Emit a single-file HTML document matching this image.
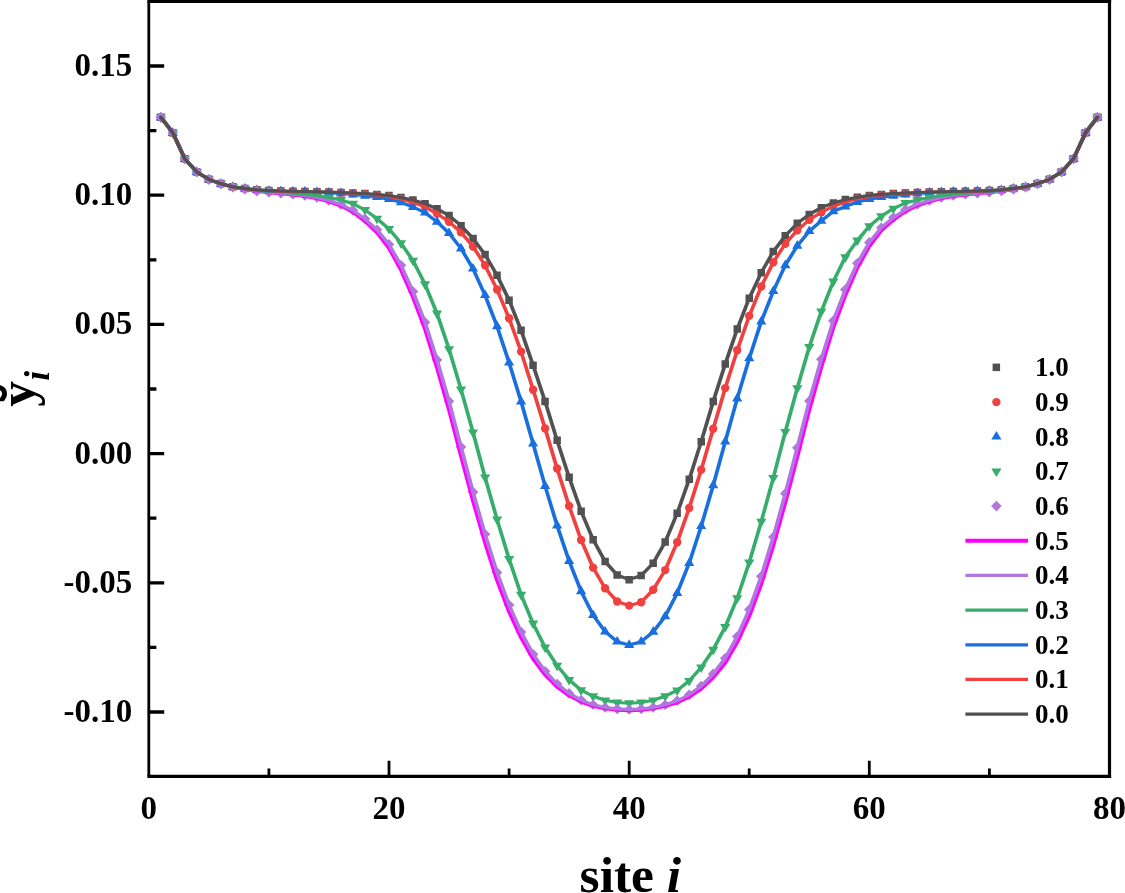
<!DOCTYPE html>
<html lang="en"><head><meta charset="utf-8"><title>site i plot</title>
<style>
html,body{margin:0;padding:0;background:#fff;}
body{width:1125px;height:893px;overflow:hidden;}
svg{display:block;}
text{font-family:"Liberation Serif","Times New Roman",serif;font-weight:bold;fill:#000;}
.tk{font-size:33px;}
.lg{font-size:27px;}
.ti{font-size:51.5px;}
</style></head><body>
<svg width="1125" height="893" viewBox="0 0 1125 893">
<rect width="1125" height="893" fill="#fff"/>
<g id="scatter">
<path fill="#515151" d="M157.1 113.5h7.5v7.5h-7.5zM169.1 128.9h7.5v7.5h-7.5zM181.1 154.9h7.5v7.5h-7.5zM193.1 168.2h7.5v7.5h-7.5zM205.1 175.6h7.5v7.5h-7.5zM217.1 179.8h7.5v7.5h-7.5zM229.1 182.9h7.5v7.5h-7.5zM241.1 184.7h7.5v7.5h-7.5zM253.1 186.1h7.5v7.5h-7.5zM265.1 186.8h7.5v7.5h-7.5zM277.1 187.2h7.5v7.5h-7.5zM289.2 187.6h7.5v7.5h-7.5zM301.2 187.8h7.5v7.5h-7.5zM313.2 188.1h7.5v7.5h-7.5zM325.2 188.3h7.5v7.5h-7.5zM337.2 188.8h7.5v7.5h-7.5zM349.2 189.2h7.5v7.5h-7.5zM361.2 189.8h7.5v7.5h-7.5zM373.2 190.7h7.5v7.5h-7.5zM385.2 191.8h7.5v7.5h-7.5zM397.2 193.8h7.5v7.5h-7.5zM409.2 196.2h7.5v7.5h-7.5zM421.3 199.9h7.5v7.5h-7.5zM433.3 205.1h7.5v7.5h-7.5zM445.3 211.8h7.5v7.5h-7.5zM457.3 221.9h7.5v7.5h-7.5zM469.3 234.8h7.5v7.5h-7.5zM481.3 250.8h7.5v7.5h-7.5zM493.3 271.6h7.5v7.5h-7.5zM505.3 296.4h7.5v7.5h-7.5zM517.3 326.6h7.5v7.5h-7.5zM529.3 361.6h7.5v7.5h-7.5zM541.3 397.8h7.5v7.5h-7.5zM553.4 436.6h7.5v7.5h-7.5zM565.4 473.6h7.5v7.5h-7.5zM577.4 507.4h7.5v7.5h-7.5zM589.4 536.0h7.5v7.5h-7.5zM601.4 557.8h7.5v7.5h-7.5zM613.4 571.2h7.5v7.5h-7.5zM625.4 575.9h7.5v7.5h-7.5zM637.4 571.8h7.5v7.5h-7.5zM649.4 559.5h7.5v7.5h-7.5zM661.4 538.2h7.5v7.5h-7.5zM673.4 509.5h7.5v7.5h-7.5zM685.5 475.6h7.5v7.5h-7.5zM697.5 437.9h7.5v7.5h-7.5zM709.5 397.8h7.5v7.5h-7.5zM721.5 360.2h7.5v7.5h-7.5zM733.5 325.2h7.5v7.5h-7.5zM745.5 294.4h7.5v7.5h-7.5zM757.5 268.9h7.5v7.5h-7.5zM769.5 247.8h7.5v7.5h-7.5zM781.5 232.1h7.5v7.5h-7.5zM793.5 219.6h7.5v7.5h-7.5zM805.5 210.7h7.5v7.5h-7.5zM817.6 203.9h7.5v7.5h-7.5zM829.6 199.2h7.5v7.5h-7.5zM841.6 195.8h7.5v7.5h-7.5zM853.6 193.4h7.5v7.5h-7.5zM865.6 191.7h7.5v7.5h-7.5zM877.6 190.7h7.5v7.5h-7.5zM889.6 189.8h7.5v7.5h-7.5zM901.6 189.2h7.5v7.5h-7.5zM913.6 188.8h7.5v7.5h-7.5zM925.6 188.3h7.5v7.5h-7.5zM937.6 188.1h7.5v7.5h-7.5zM949.7 187.8h7.5v7.5h-7.5zM961.7 187.6h7.5v7.5h-7.5zM973.7 187.2h7.5v7.5h-7.5zM985.7 186.8h7.5v7.5h-7.5zM997.7 186.1h7.5v7.5h-7.5zM1009.7 184.7h7.5v7.5h-7.5zM1021.7 182.9h7.5v7.5h-7.5zM1033.7 179.8h7.5v7.5h-7.5zM1045.7 175.6h7.5v7.5h-7.5zM1057.7 168.2h7.5v7.5h-7.5zM1069.7 154.9h7.5v7.5h-7.5zM1081.8 128.9h7.5v7.5h-7.5zM1093.8 113.5h7.5v7.5h-7.5z"/>
<g fill="#F14040"><circle cx="160.8" cy="117.4" r="4.2"/><circle cx="172.8" cy="132.9" r="4.2"/><circle cx="184.8" cy="158.9" r="4.2"/><circle cx="196.8" cy="172.1" r="4.2"/><circle cx="208.8" cy="179.5" r="4.2"/><circle cx="220.9" cy="183.8" r="4.2"/><circle cx="232.9" cy="186.9" r="4.2"/><circle cx="244.9" cy="188.6" r="4.2"/><circle cx="256.9" cy="190.0" r="4.2"/><circle cx="268.9" cy="190.8" r="4.2"/><circle cx="280.9" cy="191.2" r="4.2"/><circle cx="292.9" cy="191.5" r="4.2"/><circle cx="304.9" cy="191.7" r="4.2"/><circle cx="316.9" cy="192.0" r="4.2"/><circle cx="328.9" cy="192.3" r="4.2"/><circle cx="340.9" cy="192.7" r="4.2"/><circle cx="353.0" cy="193.4" r="4.2"/><circle cx="365.0" cy="194.1" r="4.2"/><circle cx="377.0" cy="195.2" r="4.2"/><circle cx="389.0" cy="196.7" r="4.2"/><circle cx="401.0" cy="199.0" r="4.2"/><circle cx="413.0" cy="202.5" r="4.2"/><circle cx="425.0" cy="206.9" r="4.2"/><circle cx="437.0" cy="213.6" r="4.2"/><circle cx="449.0" cy="221.7" r="4.2"/><circle cx="461.0" cy="232.4" r="4.2"/><circle cx="473.0" cy="246.5" r="4.2"/><circle cx="485.1" cy="265.3" r="4.2"/><circle cx="497.1" cy="289.5" r="4.2"/><circle cx="509.1" cy="318.2" r="4.2"/><circle cx="521.1" cy="351.6" r="4.2"/><circle cx="533.1" cy="389.7" r="4.2"/><circle cx="545.1" cy="428.5" r="4.2"/><circle cx="557.1" cy="468.5" r="4.2"/><circle cx="569.1" cy="506.0" r="4.2"/><circle cx="581.1" cy="540.0" r="4.2"/><circle cx="593.1" cy="567.6" r="4.2"/><circle cx="605.1" cy="588.3" r="4.2"/><circle cx="617.2" cy="601.5" r="4.2"/><circle cx="629.2" cy="605.6" r="4.2"/><circle cx="641.2" cy="602.2" r="4.2"/><circle cx="653.2" cy="589.8" r="4.2"/><circle cx="665.2" cy="570.1" r="4.2"/><circle cx="677.2" cy="542.3" r="4.2"/><circle cx="689.2" cy="508.0" r="4.2"/><circle cx="701.2" cy="469.8" r="4.2"/><circle cx="713.2" cy="428.8" r="4.2"/><circle cx="725.2" cy="388.1" r="4.2"/><circle cx="737.2" cy="350.3" r="4.2"/><circle cx="749.2" cy="315.9" r="4.2"/><circle cx="761.3" cy="286.5" r="4.2"/><circle cx="773.3" cy="262.3" r="4.2"/><circle cx="785.3" cy="243.8" r="4.2"/><circle cx="797.3" cy="230.4" r="4.2"/><circle cx="809.3" cy="219.7" r="4.2"/><circle cx="821.3" cy="212.3" r="4.2"/><circle cx="833.3" cy="206.2" r="4.2"/><circle cx="845.3" cy="202.1" r="4.2"/><circle cx="857.3" cy="198.7" r="4.2"/><circle cx="869.3" cy="196.7" r="4.2"/><circle cx="881.3" cy="195.2" r="4.2"/><circle cx="893.4" cy="194.1" r="4.2"/><circle cx="905.4" cy="193.4" r="4.2"/><circle cx="917.4" cy="192.7" r="4.2"/><circle cx="929.4" cy="192.3" r="4.2"/><circle cx="941.4" cy="192.0" r="4.2"/><circle cx="953.4" cy="191.7" r="4.2"/><circle cx="965.4" cy="191.5" r="4.2"/><circle cx="977.4" cy="191.2" r="4.2"/><circle cx="989.4" cy="190.8" r="4.2"/><circle cx="1001.4" cy="190.0" r="4.2"/><circle cx="1013.4" cy="188.6" r="4.2"/><circle cx="1025.5" cy="186.9" r="4.2"/><circle cx="1037.5" cy="183.8" r="4.2"/><circle cx="1049.5" cy="179.5" r="4.2"/><circle cx="1061.5" cy="172.1" r="4.2"/><circle cx="1073.5" cy="158.9" r="4.2"/><circle cx="1085.5" cy="132.9" r="4.2"/><circle cx="1097.5" cy="117.4" r="4.2"/></g>
<path fill="#1A6FDF" d="M160.8 111.8L165.9 120.4L155.7 120.4zM172.8 127.3L177.9 135.9L167.7 135.9zM184.8 153.3L189.9 161.9L179.7 161.9zM196.8 166.5L201.9 175.1L191.7 175.1zM208.8 173.9L213.9 182.5L203.7 182.5zM220.9 178.2L226.0 186.8L215.8 186.8zM232.9 181.3L238.0 189.9L227.8 189.9zM244.9 183.0L250.0 191.6L239.8 191.6zM256.9 184.4L262.0 193.0L251.8 193.0zM268.9 185.2L274.0 193.8L263.8 193.8zM280.9 185.6L286.0 194.2L275.8 194.2zM292.9 185.9L298.0 194.5L287.8 194.5zM304.9 186.1L310.0 194.7L299.8 194.7zM316.9 186.4L322.0 195.0L311.8 195.0zM328.9 187.0L334.0 195.6L323.8 195.6zM340.9 187.7L346.0 196.3L335.8 196.3zM353.0 188.8L358.1 197.4L347.9 197.4zM365.0 190.1L370.1 198.7L359.9 198.7zM377.0 191.5L382.1 200.1L371.9 200.1zM389.0 193.5L394.1 202.1L383.9 202.1zM401.0 196.6L406.1 205.2L395.9 205.2zM413.0 201.3L418.1 209.9L407.9 209.9zM425.0 207.0L430.1 215.6L419.9 215.6zM437.0 216.1L442.1 224.7L431.9 224.7zM449.0 227.4L454.1 236.0L443.9 236.0zM461.0 242.8L466.1 251.4L455.9 251.4zM473.0 263.0L478.1 271.6L467.9 271.6zM485.1 289.5L490.2 298.1L480.0 298.1zM497.1 320.6L502.2 329.2L492.0 329.2zM509.1 356.9L514.2 365.5L504.0 365.5zM521.1 395.8L526.2 404.4L516.0 404.4zM533.1 438.0L538.2 446.6L528.0 446.6zM545.1 480.3L550.2 488.9L540.0 488.9zM557.1 519.8L562.2 528.4L552.0 528.4zM569.1 555.3L574.2 563.9L564.0 563.9zM581.1 585.6L586.2 594.2L576.0 594.2zM593.1 609.5L598.2 618.1L588.0 618.1zM605.1 625.9L610.2 634.5L600.0 634.5zM617.2 636.0L622.3 644.6L612.1 644.6zM629.2 639.3L634.3 647.9L624.1 647.9zM641.2 636.0L646.3 644.6L636.1 644.6zM653.2 626.1L658.3 634.7L648.1 634.7zM665.2 610.7L670.3 619.3L660.1 619.3zM677.2 587.4L682.3 596.0L672.1 596.0zM689.2 557.4L694.3 566.0L684.1 566.0zM701.2 520.4L706.3 529.0L696.1 529.0zM713.2 479.6L718.3 488.2L708.1 488.2zM725.2 436.0L730.3 444.6L720.1 444.6zM737.2 392.8L742.3 401.4L732.1 401.4zM749.2 352.7L754.4 361.3L744.1 361.3zM761.3 315.8L766.4 324.4L756.2 324.4zM773.3 285.5L778.4 294.1L768.2 294.1zM785.3 259.6L790.4 268.2L780.2 268.2zM797.3 240.1L802.4 248.7L792.2 248.7zM809.3 225.4L814.4 234.0L804.2 234.0zM821.3 215.1L826.4 223.7L816.2 223.7zM833.3 205.7L838.4 214.3L828.2 214.3zM845.3 200.8L850.4 209.4L840.2 209.4zM857.3 196.3L862.4 204.9L852.2 204.9zM869.3 193.5L874.4 202.1L864.2 202.1zM881.3 191.5L886.4 200.1L876.2 200.1zM893.4 190.1L898.5 198.7L888.3 198.7zM905.4 188.8L910.5 197.4L900.3 197.4zM917.4 187.7L922.5 196.3L912.3 196.3zM929.4 187.0L934.5 195.6L924.3 195.6zM941.4 186.4L946.5 195.0L936.3 195.0zM953.4 186.1L958.5 194.7L948.3 194.7zM965.4 185.9L970.5 194.5L960.3 194.5zM977.4 185.6L982.5 194.2L972.3 194.2zM989.4 185.2L994.5 193.8L984.3 193.8zM1001.4 184.4L1006.5 193.0L996.3 193.0zM1013.4 183.0L1018.5 191.6L1008.3 191.6zM1025.5 181.3L1030.6 189.9L1020.4 189.9zM1037.5 178.2L1042.6 186.8L1032.4 186.8zM1049.5 173.9L1054.6 182.5L1044.4 182.5zM1061.5 166.5L1066.6 175.1L1056.4 175.1zM1073.5 153.3L1078.6 161.9L1068.4 161.9zM1085.5 127.3L1090.6 135.9L1080.4 135.9zM1097.5 111.8L1102.6 120.4L1092.4 120.4z"/>
<path fill="#37AD6B" d="M160.8 122.9L165.9 114.3L155.7 114.3zM172.8 138.4L177.9 129.8L167.7 129.8zM184.8 164.4L189.9 155.8L179.7 155.8zM196.8 177.6L201.9 169.0L191.7 169.0zM208.8 185.0L213.9 176.4L203.7 176.4zM220.9 189.4L226.0 180.8L215.8 180.8zM232.9 192.6L238.0 184.0L227.8 184.0zM244.9 194.5L250.0 185.9L239.8 185.9zM256.9 196.1L262.0 187.5L251.8 187.5zM268.9 197.2L274.0 188.6L263.8 188.6zM280.9 198.0L286.0 189.4L275.8 189.4zM292.9 199.0L298.0 190.4L287.8 190.4zM304.9 200.1L310.0 191.5L299.8 191.5zM316.9 201.5L322.0 192.9L311.8 192.9zM328.9 203.2L334.0 194.6L323.8 194.6zM340.9 205.7L346.0 197.1L335.8 197.1zM353.0 209.4L358.1 200.8L347.9 200.8zM365.0 215.6L370.1 207.0L359.9 207.0zM377.0 224.3L382.1 215.7L371.9 215.7zM389.0 234.5L394.1 225.9L383.9 225.9zM401.0 248.9L406.1 240.3L395.9 240.3zM413.0 266.3L418.1 257.7L407.9 257.7zM425.0 289.9L430.1 281.3L419.9 281.3zM437.0 319.2L442.1 310.6L431.9 310.6zM449.0 354.8L454.1 346.2L443.9 346.2zM461.0 395.2L466.1 386.6L455.9 386.6zM473.0 438.0L478.1 429.4L467.9 429.4zM485.1 483.0L490.2 474.4L480.0 474.4zM497.1 525.2L502.2 516.6L492.0 516.6zM509.1 564.7L514.2 556.1L504.0 556.1zM521.1 600.4L526.2 591.8L516.0 591.8zM533.1 629.2L538.2 620.6L528.0 620.6zM545.1 653.0L550.2 644.4L540.0 644.4zM557.1 671.3L562.2 662.7L552.0 662.7zM569.1 685.5L574.2 676.9L564.0 676.9zM581.1 695.8L586.2 687.2L576.0 687.2zM593.1 701.9L598.2 693.3L588.0 693.3zM605.1 706.0L610.2 697.4L600.0 697.4zM617.2 708.2L622.3 699.6L612.1 699.6zM629.2 708.9L634.3 700.3L624.1 700.3zM641.2 708.2L646.3 699.6L636.1 699.6zM653.2 706.0L658.3 697.4L648.1 697.4zM665.2 701.9L670.3 693.3L660.1 693.3zM677.2 696.1L682.3 687.5L672.1 687.5zM689.2 686.5L694.3 677.9L684.1 677.9zM701.2 673.0L706.3 664.4L696.1 664.4zM713.2 655.4L718.3 646.8L708.1 646.8zM725.2 632.6L730.3 624.0L720.1 624.0zM737.2 603.8L742.3 595.2L732.1 595.2zM749.2 568.1L754.4 559.5L744.1 559.5zM761.3 527.4L766.4 518.8L756.2 518.8zM773.3 483.7L778.4 475.1L768.2 475.1zM785.3 437.5L790.4 428.9L780.2 428.9zM797.3 393.9L802.4 385.3L792.2 385.3zM809.3 352.5L814.4 343.9L804.2 343.9zM821.3 317.2L826.4 308.6L816.2 308.6zM833.3 287.2L838.4 278.6L828.2 278.6zM845.3 262.9L850.4 254.3L840.2 254.3zM857.3 246.2L862.4 237.6L852.2 237.6zM869.3 231.8L874.4 223.2L864.2 223.2zM881.3 221.9L886.4 213.3L876.2 213.3zM893.4 214.3L898.5 205.7L888.3 205.7zM905.4 208.7L910.5 200.1L900.3 200.1zM917.4 205.7L922.5 197.1L912.3 197.1zM929.4 203.2L934.5 194.6L924.3 194.6zM941.4 201.5L946.5 192.9L936.3 192.9zM953.4 200.1L958.5 191.5L948.3 191.5zM965.4 199.0L970.5 190.4L960.3 190.4zM977.4 198.0L982.5 189.4L972.3 189.4zM989.4 197.2L994.5 188.6L984.3 188.6zM1001.4 196.1L1006.5 187.5L996.3 187.5zM1013.4 194.5L1018.5 185.9L1008.3 185.9zM1025.5 192.6L1030.6 184.0L1020.4 184.0zM1037.5 189.4L1042.6 180.8L1032.4 180.8zM1049.5 185.0L1054.6 176.4L1044.4 176.4zM1061.5 177.6L1066.6 169.0L1056.4 169.0zM1073.5 164.4L1078.6 155.8L1068.4 155.8zM1085.5 138.4L1090.6 129.8L1080.4 129.8zM1097.5 122.9L1102.6 114.3L1092.4 114.3z"/>
<path fill="#B177DE" d="M160.8 111.9L166.1 117.2L160.8 122.5L155.5 117.2zM172.8 127.4L178.1 132.7L172.8 138.0L167.5 132.7zM184.8 153.4L190.1 158.7L184.8 164.0L179.5 158.7zM196.8 166.6L202.1 171.9L196.8 177.2L191.5 171.9zM208.8 174.0L214.1 179.3L208.8 184.6L203.5 179.3zM220.9 178.5L226.2 183.8L220.9 189.1L215.6 183.8zM232.9 181.8L238.2 187.1L232.9 192.4L227.6 187.1zM244.9 183.9L250.2 189.2L244.9 194.5L239.6 189.2zM256.9 185.7L262.2 191.0L256.9 196.3L251.6 191.0zM268.9 187.0L274.2 192.3L268.9 197.6L263.6 192.3zM280.9 188.0L286.2 193.3L280.9 198.6L275.6 193.3zM292.9 189.0L298.2 194.3L292.9 199.6L287.6 194.3zM304.9 190.2L310.2 195.5L304.9 200.8L299.6 195.5zM316.9 192.2L322.2 197.5L316.9 202.8L311.6 197.5zM328.9 195.2L334.2 200.5L328.9 205.8L323.6 200.5zM340.9 199.2L346.2 204.5L340.9 209.8L335.6 204.5zM353.0 205.1L358.3 210.4L353.0 215.7L347.7 210.4zM365.0 213.6L370.3 218.9L365.0 224.2L359.7 218.9zM377.0 224.4L382.3 229.7L377.0 235.0L371.7 229.7zM389.0 239.1L394.3 244.4L389.0 249.7L383.7 244.4zM401.0 260.0L406.3 265.3L401.0 270.6L395.7 265.3zM413.0 286.3L418.3 291.6L413.0 296.9L407.7 291.6zM425.0 317.0L430.3 322.3L425.0 327.6L419.7 322.3zM437.0 354.6L442.3 359.9L437.0 365.2L431.7 359.9zM449.0 396.0L454.3 401.3L449.0 406.6L443.7 401.3zM461.0 441.7L466.3 447.0L461.0 452.3L455.7 447.0zM473.0 486.8L478.3 492.1L473.0 497.4L467.7 492.1zM485.1 528.9L490.4 534.2L485.1 539.5L479.8 534.2zM497.1 567.2L502.4 572.5L497.1 577.8L491.8 572.5zM509.1 599.7L514.4 605.0L509.1 610.3L503.8 605.0zM521.1 626.7L526.4 632.0L521.1 637.3L515.8 632.0zM533.1 648.9L538.4 654.2L533.1 659.5L527.8 654.2zM545.1 665.9L550.4 671.2L545.1 676.5L539.8 671.2zM557.1 678.7L562.4 684.0L557.1 689.3L551.8 684.0zM569.1 688.1L574.4 693.4L569.1 698.7L563.8 693.4zM581.1 694.8L586.4 700.1L581.1 705.4L575.8 700.1zM593.1 699.5L598.4 704.8L593.1 710.1L587.8 704.8zM605.1 702.2L610.4 707.5L605.1 712.8L599.8 707.5zM617.2 703.6L622.5 708.9L617.2 714.2L611.9 708.9zM629.2 704.2L634.5 709.5L629.2 714.8L623.9 709.5zM641.2 703.6L646.5 708.9L641.2 714.2L635.9 708.9zM653.2 702.2L658.5 707.5L653.2 712.8L647.9 707.5zM665.2 699.5L670.5 704.8L665.2 710.1L659.9 704.8zM677.2 695.5L682.5 700.8L677.2 706.1L671.9 700.8zM689.2 689.4L694.5 694.7L689.2 700.0L683.9 694.7zM701.2 680.7L706.5 686.0L701.2 691.3L695.9 686.0zM713.2 668.6L718.5 673.9L713.2 679.2L707.9 673.9zM725.2 652.9L730.5 658.2L725.2 663.5L719.9 658.2zM737.2 631.2L742.5 636.5L737.2 641.8L731.9 636.5zM749.2 604.2L754.5 609.5L749.2 614.8L744.0 609.5zM761.3 571.0L766.6 576.3L761.3 581.6L756.0 576.3zM773.3 531.7L778.6 537.0L773.3 542.3L768.0 537.0zM785.3 488.3L790.6 493.6L785.3 498.9L780.0 493.6zM797.3 442.4L802.6 447.7L797.3 453.0L792.0 447.7zM809.3 395.7L814.6 401.0L809.3 406.3L804.0 401.0zM821.3 353.9L826.6 359.2L821.3 364.5L816.0 359.2zM833.3 315.5L838.6 320.8L833.3 326.1L828.0 320.8zM845.3 284.3L850.6 289.6L845.3 294.9L840.0 289.6zM857.3 258.0L862.6 263.3L857.3 268.6L852.0 263.3zM869.3 237.1L874.6 242.4L869.3 247.7L864.0 242.4zM881.3 222.4L886.6 227.7L881.3 233.0L876.0 227.7zM893.4 212.3L898.7 217.6L893.4 222.9L888.1 217.6zM905.4 204.4L910.7 209.7L905.4 215.0L900.1 209.7zM917.4 198.9L922.7 204.2L917.4 209.5L912.1 204.2zM929.4 195.2L934.7 200.5L929.4 205.8L924.1 200.5zM941.4 192.2L946.7 197.5L941.4 202.8L936.1 197.5zM953.4 190.2L958.7 195.5L953.4 200.8L948.1 195.5zM965.4 189.0L970.7 194.3L965.4 199.6L960.1 194.3zM977.4 188.0L982.7 193.3L977.4 198.6L972.1 193.3zM989.4 187.0L994.7 192.3L989.4 197.6L984.1 192.3zM1001.4 185.7L1006.7 191.0L1001.4 196.3L996.1 191.0zM1013.4 183.9L1018.7 189.2L1013.4 194.5L1008.1 189.2zM1025.5 181.8L1030.8 187.1L1025.5 192.4L1020.2 187.1zM1037.5 178.5L1042.8 183.8L1037.5 189.1L1032.2 183.8zM1049.5 174.0L1054.8 179.3L1049.5 184.6L1044.2 179.3zM1061.5 166.6L1066.8 171.9L1061.5 177.2L1056.2 171.9zM1073.5 153.4L1078.8 158.7L1073.5 164.0L1068.2 158.7zM1085.5 127.4L1090.8 132.7L1085.5 138.0L1080.2 132.7zM1097.5 111.9L1102.8 117.2L1097.5 122.5L1092.2 117.2z"/>
</g>
<g id="lines" transform="scale(1.20 1)">
<polyline points="134.01,117.2 144.02,132.7 154.02,158.7 164.03,171.9 174.04,179.3 184.05,183.8 194.05,187.2 204.06,189.4 214.07,191.3 224.07,192.7 234.08,193.8 244.09,195.0 254.10,196.4 264.11,198.6 274.11,201.8 284.12,206.0 294.13,212.3 304.13,221.3 314.14,232.7 324.15,248.3 334.16,270.2 344.17,297.5 354.17,329.4 364.18,368.1 374.19,410.4 384.20,456.5 394.20,501.4 404.21,543.0 414.22,580.6 424.23,612.0 434.23,637.9 444.24,659.1 454.25,675.0 464.25,687.0 474.26,695.8 484.27,702.0 494.28,706.3 504.29,708.8 514.29,710.1 524.30,710.6 534.31,710.1 544.32,708.8 554.32,706.3 564.33,702.7 574.34,697.1 584.35,689.0 594.35,677.7 604.36,663.1 614.37,642.4 624.38,616.5 634.38,584.4 644.39,545.8 654.40,502.9 664.41,457.2 674.41,410.1 684.42,367.4 694.43,327.9 704.44,295.5 714.44,268.2 724.45,246.3 734.46,230.7 744.47,220.0 754.47,211.6 764.48,205.7 774.49,201.8 784.50,198.6 794.50,196.4 804.51,195.0 814.52,193.8 824.53,192.7 834.53,191.3 844.54,189.4 854.55,187.2 864.56,183.8 874.56,179.3 884.57,171.9 894.58,158.7 904.59,132.7 914.59,117.2" fill="none" stroke="#FF00FF" stroke-width="3.1" stroke-linejoin="round" stroke-linecap="round"/>
<polyline points="134.01,117.2 144.02,132.7 154.02,158.7 164.03,171.9 174.04,179.3 184.05,183.8 194.05,187.1 204.06,189.2 214.07,191.0 224.07,192.3 234.08,193.3 244.09,194.3 254.10,195.5 264.11,197.5 274.11,200.5 284.12,204.5 294.13,210.4 304.13,218.9 314.14,229.7 324.15,244.4 334.16,265.3 344.17,291.6 354.17,322.3 364.18,359.9 374.19,401.3 384.20,447.0 394.20,492.1 404.21,534.2 414.22,572.5 424.23,605.0 434.23,632.0 444.24,654.2 454.25,671.2 464.25,684.0 474.26,693.4 484.27,700.1 494.28,704.8 504.29,707.5 514.29,708.9 524.30,709.5 534.31,708.9 544.32,707.5 554.32,704.8 564.33,700.8 574.34,694.7 584.35,686.0 594.35,673.9 604.36,658.2 614.37,636.5 624.38,609.5 634.38,576.3 644.39,537.0 654.40,493.6 664.41,447.7 674.41,401.0 684.42,359.2 694.43,320.8 704.44,289.6 714.44,263.3 724.45,242.4 734.46,227.7 744.47,217.6 754.47,209.7 764.48,204.2 774.49,200.5 784.50,197.5 794.50,195.5 804.51,194.3 814.52,193.3 824.53,192.3 834.53,191.0 844.54,189.2 854.55,187.1 864.56,183.8 874.56,179.3 884.57,171.9 894.58,158.7 904.59,132.7 914.59,117.2" fill="none" stroke="#B177DE" stroke-width="3.1" stroke-linejoin="round" stroke-linecap="round"/>
<polyline points="134.01,117.2 144.02,132.7 154.02,158.7 164.03,171.9 174.04,179.3 184.05,183.7 194.05,186.9 204.06,188.8 214.07,190.4 224.07,191.5 234.08,192.3 244.09,193.3 254.10,194.4 264.11,195.8 274.11,197.5 284.12,200.0 294.13,203.7 304.13,209.9 314.14,218.6 324.15,228.8 334.16,243.2 344.17,260.6 354.17,284.2 364.18,313.5 374.19,349.1 384.20,389.5 394.20,432.3 404.21,477.3 414.22,519.5 424.23,559.0 434.23,594.7 444.24,623.5 454.25,647.3 464.25,665.6 474.26,679.8 484.27,690.1 494.28,696.2 504.29,700.3 514.29,702.5 524.30,703.2 534.31,702.5 544.32,700.3 554.32,696.2 564.33,690.4 574.34,680.8 584.35,667.3 594.35,649.7 604.36,626.9 614.37,598.1 624.38,562.4 634.38,521.7 644.39,478.0 654.40,431.8 664.41,388.2 674.41,346.8 684.42,311.5 694.43,281.5 704.44,257.2 714.44,240.5 724.45,226.1 734.46,216.2 744.47,208.6 754.47,203.0 764.48,200.0 774.49,197.5 784.50,195.8 794.50,194.4 804.51,193.3 814.52,192.3 824.53,191.5 834.53,190.4 844.54,188.8 854.55,186.9 864.56,183.7 874.56,179.3 884.57,171.9 894.58,158.7 904.59,132.7 914.59,117.2" fill="none" stroke="#37AD6B" stroke-width="3.1" stroke-linejoin="round" stroke-linecap="round"/>
<polyline points="134.01,117.5 144.02,133.0 154.02,159.0 164.03,172.2 174.04,179.6 184.05,183.9 194.05,187.0 204.06,188.7 214.07,190.1 224.07,190.9 234.08,191.3 244.09,191.6 254.10,191.8 264.11,192.1 274.11,192.7 284.12,193.4 294.13,194.5 304.13,195.8 314.14,197.2 324.15,199.2 334.16,202.3 344.17,207.0 354.17,212.7 364.18,221.8 374.19,233.1 384.20,248.5 394.20,268.7 404.21,295.2 414.22,326.3 424.23,362.6 434.23,401.5 444.24,443.7 454.25,486.0 464.25,525.5 474.26,561.0 484.27,591.3 494.28,615.2 504.29,631.6 514.29,641.7 524.30,645.0 534.31,641.7 544.32,631.8 554.32,616.4 564.33,593.1 574.34,563.1 584.35,526.1 594.35,485.3 604.36,441.7 614.37,398.5 624.38,358.4 634.38,321.5 644.39,291.2 654.40,265.3 664.41,245.8 674.41,231.1 684.42,220.8 694.43,211.4 704.44,206.5 714.44,202.0 724.45,199.2 734.46,197.2 744.47,195.8 754.47,194.5 764.48,193.4 774.49,192.7 784.50,192.1 794.50,191.8 804.51,191.6 814.52,191.3 824.53,190.9 834.53,190.1 844.54,188.7 854.55,187.0 864.56,183.9 874.56,179.6 884.57,172.2 894.58,159.0 904.59,133.0 914.59,117.5" fill="none" stroke="#1A6FDF" stroke-width="3.1" stroke-linejoin="round" stroke-linecap="round"/>
<polyline points="134.01,117.4 144.02,132.9 154.02,158.9 164.03,172.1 174.04,179.5 184.05,183.8 194.05,186.9 204.06,188.6 214.07,190.0 224.07,190.8 234.08,191.2 244.09,191.5 254.10,191.7 264.11,192.0 274.11,192.3 284.12,192.7 294.13,193.4 304.13,194.1 314.14,195.2 324.15,196.7 334.16,199.0 344.17,202.5 354.17,206.9 364.18,213.6 374.19,221.7 384.20,232.4 394.20,246.5 404.21,265.3 414.22,289.5 424.23,318.2 434.23,351.6 444.24,389.7 454.25,428.5 464.25,468.5 474.26,506.0 484.27,540.0 494.28,567.6 504.29,588.3 514.29,601.5 524.30,605.6 534.31,602.2 544.32,589.8 554.32,570.1 564.33,542.3 574.34,508.0 584.35,469.8 594.35,428.8 604.36,388.1 614.37,350.3 624.38,315.9 634.38,286.5 644.39,262.3 654.40,243.8 664.41,230.4 674.41,219.7 684.42,212.3 694.43,206.2 704.44,202.1 714.44,198.7 724.45,196.7 734.46,195.2 744.47,194.1 754.47,193.4 764.48,192.7 774.49,192.3 784.50,192.0 794.50,191.7 804.51,191.5 814.52,191.2 824.53,190.8 834.53,190.0 844.54,188.6 854.55,186.9 864.56,183.8 874.56,179.5 884.57,172.1 894.58,158.9 904.59,132.9 914.59,117.4" fill="none" stroke="#F14040" stroke-width="3.1" stroke-linejoin="round" stroke-linecap="round"/>
<polyline points="134.01,117.2 144.02,132.7 154.02,158.7 164.03,171.9 174.04,179.3 184.05,183.6 194.05,186.7 204.06,188.4 214.07,189.8 224.07,190.6 234.08,191.0 244.09,191.3 254.10,191.5 264.11,191.8 274.11,192.1 284.12,192.5 294.13,193.0 304.13,193.5 314.14,194.4 324.15,195.6 334.16,197.6 344.17,200.0 354.17,203.7 364.18,208.8 374.19,215.6 384.20,225.7 394.20,238.5 404.21,254.6 414.22,275.4 424.23,300.1 434.23,330.3 444.24,365.3 454.25,401.5 464.25,440.3 474.26,477.3 484.27,511.2 494.28,539.7 504.29,561.5 514.29,575.0 524.30,579.6 534.31,575.5 544.32,563.2 554.32,542.0 564.33,513.3 574.34,479.3 584.35,441.6 594.35,401.5 604.36,364.0 614.37,329.0 624.38,298.1 634.38,272.7 644.39,251.6 654.40,235.8 664.41,223.4 674.41,214.4 684.42,207.6 694.43,203.0 704.44,199.6 714.44,197.2 724.45,195.4 734.46,194.4 744.47,193.5 754.47,193.0 764.48,192.5 774.49,192.1 784.50,191.8 794.50,191.5 804.51,191.3 814.52,191.0 824.53,190.6 834.53,189.8 844.54,188.4 854.55,186.7 864.56,183.6 874.56,179.3 884.57,171.9 894.58,158.7 904.59,132.7 914.59,117.2" fill="none" stroke="#515151" stroke-width="3.1" stroke-linejoin="round" stroke-linecap="round"/>
</g>
<g stroke="#000" fill="none" stroke-linecap="butt">
<path stroke-width="3.3" d="M147.4 1.4H1111.1M147.4 776.3H1111.1M148.8 712.0h15.4M148.8 582.8h15.4M148.8 453.6h15.4M148.8 324.4h15.4M148.8 195.2h15.4M148.8 66.0h15.4M148.8 647.4h7.6M148.8 518.2h7.6M148.8 389.0h7.6M148.8 259.8h7.6M148.8 130.6h7.6M148.8 1.4h7.6"/>
<path stroke-width="3.2" d="M1109.5 -0.2V777.9"/>
<path stroke-width="2.8" d="M148.8 1.4V776.3M268.9 776.3v-7.7M389.0 776.3v-15.6M509.1 776.3v-7.7M629.2 776.3v-15.6M749.2 776.3v-7.7M869.3 776.3v-15.6M989.4 776.3v-7.7"/>
</g>
<g class="tk" text-anchor="end">
<text transform="translate(132.3 721.9) scale(1 1.04)">-0.10</text>
<text transform="translate(132.3 592.7) scale(1 1.04)">-0.05</text>
<text transform="translate(132.3 463.5) scale(1 1.04)">0.00</text>
<text transform="translate(132.3 334.3) scale(1 1.04)">0.05</text>
<text transform="translate(132.3 205.1) scale(1 1.04)">0.10</text>
<text transform="translate(132.3 75.9) scale(1 1.04)">0.15</text>
</g>
<g class="tk" text-anchor="middle">
<text transform="translate(148.8 819.4) scale(1 1.04)">0</text>
<text transform="translate(389.0 819.4) scale(1 1.04)">20</text>
<text transform="translate(629.2 819.4) scale(1 1.04)">40</text>
<text transform="translate(869.3 819.4) scale(1 1.04)">60</text>
<text transform="translate(1109.5 819.4) scale(1 1.04)">80</text>
</g>
<text class="ti" x="579.6" y="891.8">site <tspan font-style="italic">i</tspan></text>
<text class="ti" transform="translate(34.4 406.8) rotate(-90)">y<tspan font-style="italic" font-size="35.5" dx="0.4" dy="14.6">i</tspan></text>
<clipPath id="tc"><rect x="0" y="380" width="12" height="21.3"/></clipPath>
<g clip-path="url(#tc)"><text style="font-size:70px" transform="translate(23.0 419.8) rotate(-90)">~</text></g>
<g id="legend">
<path fill="#515151" d="M992.6 363.6h7.5v7.5h-7.5z"/>
<circle fill="#F14040" cx="996.4" cy="402.1" r="4.2"/>
<path fill="#1A6FDF" d="M996.4 431.0L1001.5 439.6L991.3 439.6z"/>
<path fill="#37AD6B" d="M996.4 477.1L1001.5 468.5L991.3 468.5z"/>
<path fill="#B177DE" d="M996.4 500.8L1001.7 506.1L996.4 511.4L991.1 506.1z"/>
<path stroke="#FF00FF" stroke-width="4.0" d="M965.4 540.8H1028"/>
<path stroke="#B177DE" stroke-width="3.3" d="M965.4 575.4H1028"/>
<path stroke="#37AD6B" stroke-width="3.3" d="M965.4 610.1H1028"/>
<path stroke="#1A6FDF" stroke-width="3.3" d="M965.4 644.8H1028"/>
<path stroke="#F14040" stroke-width="3.3" d="M965.4 679.4H1028"/>
<path stroke="#515151" stroke-width="3.3" d="M965.4 714.1H1028"/>
<g class="lg">
<text x="1035" y="376.4">1.0</text>
<text x="1035" y="411.1">0.9</text>
<text x="1035" y="445.7">0.8</text>
<text x="1035" y="480.4">0.7</text>
<text x="1035" y="515.1">0.6</text>
<text x="1035" y="549.8">0.5</text>
<text x="1035" y="584.4">0.4</text>
<text x="1035" y="619.1">0.3</text>
<text x="1035" y="653.8">0.2</text>
<text x="1035" y="688.4">0.1</text>
<text x="1035" y="723.1">0.0</text>
</g>
</g>
</svg>
</body></html>
